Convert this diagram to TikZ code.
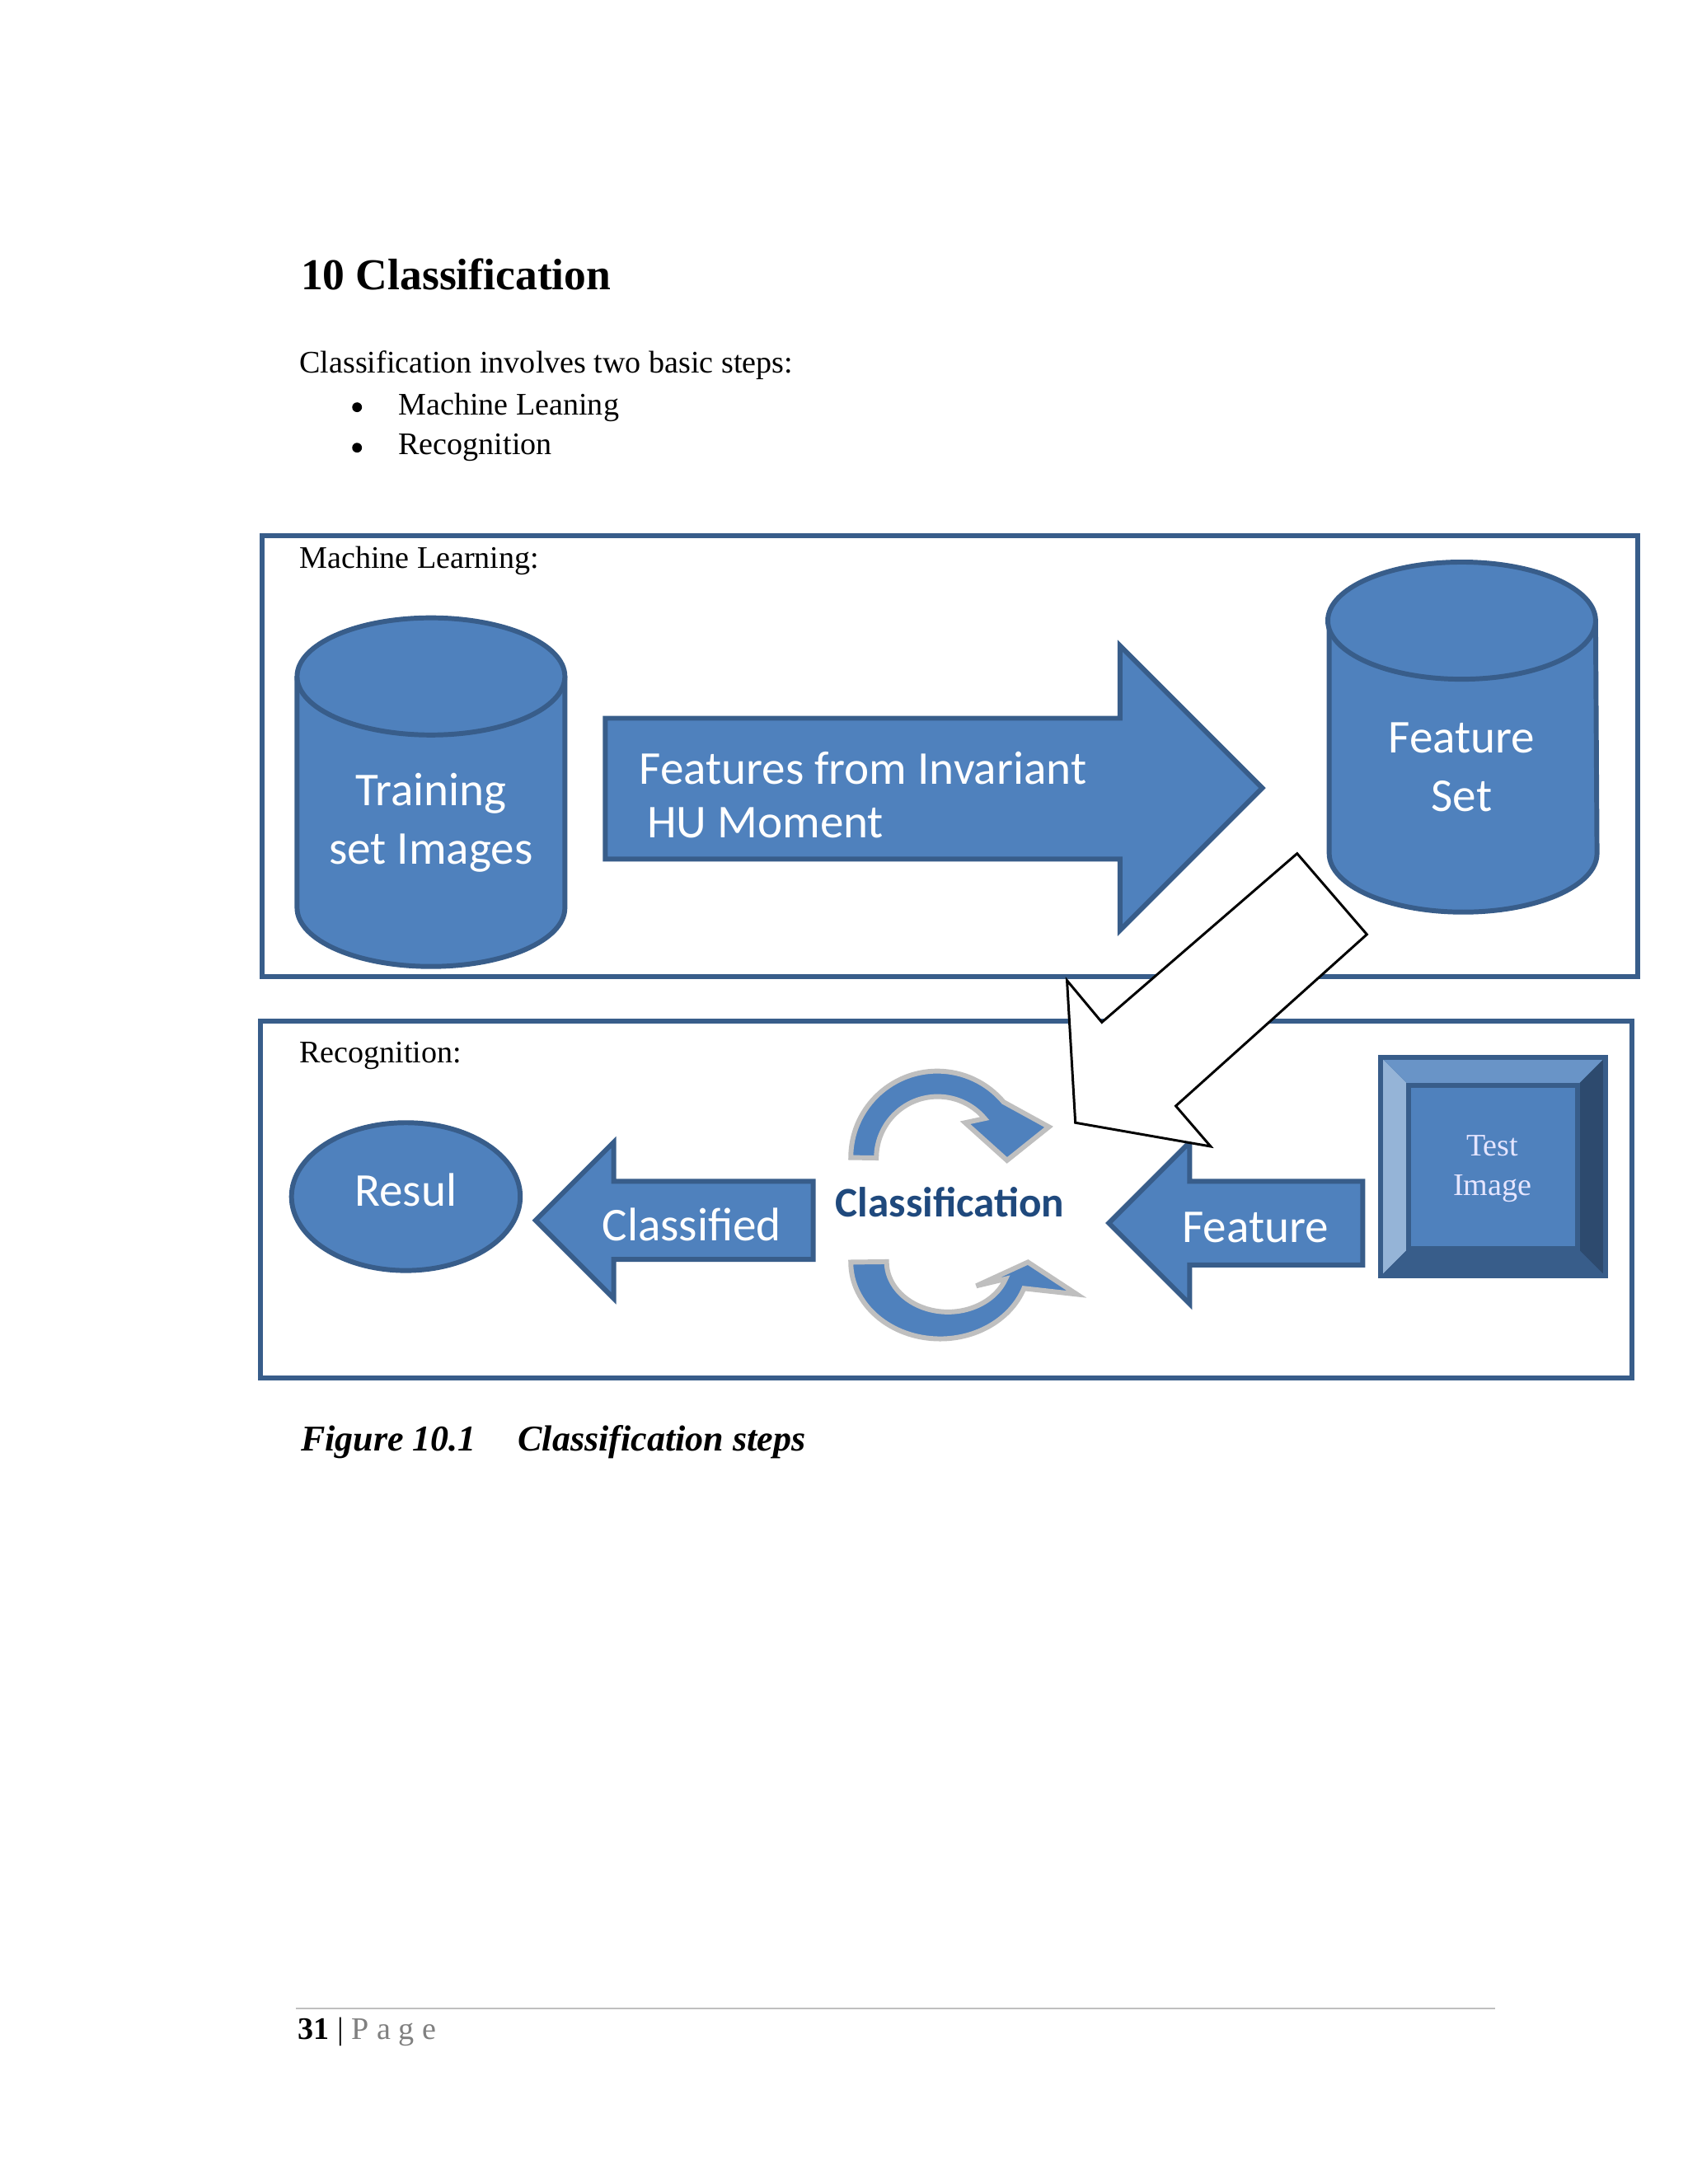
\documentclass[tikz,border=0pt]{standalone}
\usepackage{fontspec}
\setmainfont{Liberation Serif}
\newfontfamily\calib{Carlito}
\usetikzlibrary{shapes.geometric}
\definecolor{fillblue}{HTML}{4F81BD}
\definecolor{edgeblue}{HTML}{385D8A}
\definecolor{darkblue}{HTML}{1F497D}
\begin{document}
\begin{tikzpicture}[x=0.01cm,y=-0.01cm,
  shape fill/.style={fill=fillblue,draw=edgeblue,line width=1pt},
  frame/.style={draw=edgeblue,line width=1pt},
  bodytext/.style={anchor=west,inner sep=0,font=\fontsize{6.4}{7}\selectfont},
  bigtext/.style={text=white,font=\calib\fontsize{9.6}{12}\selectfont,align=center}]

    \useasboundingbox[fill=white] (0,0) rectangle (1210,1566);

    %===========================
    % Heading and text
    %===========================
    \node[bodytext,font=\bfseries\fontsize{9}{10}\selectfont] (head) at (215,197) {10 Classification};
    \node[bodytext] (intro) at (214,262) {Classification involves two basic steps:};
    \node[bodytext] (item1) at (285,292) {Machine Leaning};
    \node[bodytext] (item2) at (285,321) {Recognition};
    \fill (256,292) circle (3.5) (256,321) circle (3.5);

    %===========================
    % Machine Learning
    %===========================
    \draw[frame] (188,384) rectangle (1174,700);
    \node[bodytext] (ml) at (214,402) {Machine Learning:};

    % Cylinder left
    \draw[shape fill] (213,485) -- (213,651) arc (180:0:96 and 42) -- (405,485);
    \draw[shape fill] (309,485) ellipse (96 and 42);
    \node[bigtext] (train) at (309,590) {Training\\set Images};

    % Big arrow
    \draw[shape fill] (434,515) -- (803,515) -- (803,463) -- (905,565) -- (803,667) -- (803,616) -- (434,616) -- cycle;
    \node[bigtext,anchor=west,align=left] (feat) at (446,570) {Features from Invariant\\[-1pt] \,HU Moment};

    % Cylinder right
    \draw[shape fill] (953,445) -- (953,612) arc (180:0:96 and 42) -- (1144,445);
    \draw[shape fill] (1048,445) ellipse (96 and 42);
    \node[bigtext] (fset) at (1048,550) {Feature\\Set};

    %===========================
    % Recognition
    %===========================
    \draw[frame] (187,732) rectangle (1170,988);
    \node[bodytext] (rec) at (214,757) {Recognition:};

    % Result ellipse
    \draw[shape fill] (291,858) ellipse (82 and 53);
    \node[bigtext] (res) at (291,853) {Resul};

    % Classified arrow
    \draw[shape fill] (583,847) -- (440,847) -- (440,819) -- (384,875) -- (440,931) -- (440,903) -- (583,903) -- cycle;
    \node[bigtext] (cls) at (496,878) {Classified};

    % Feature arrow
    \draw[shape fill] (977,847) -- (853,847) -- (853,819) -- (795,877) -- (853,935) -- (853,907) -- (977,907) -- cycle;
    \node[bigtext] (fea) at (900,880) {Feature};

    % Cycle icon
    \draw[shape fill,draw=gray!50] (610,830) arc (180:320:62 and 62) -- (752,808) -- (722,832) -- (692,805) -- (706,802)
        arc (320:180:44 and 44) -- cycle;
    \draw[shape fill,draw=gray!50] (610,905) arc (180:20:64 and 55) -- (772,928) -- (737,905) -- (700,922) -- (721,917)
        arc (20:180:44 and 36) -- cycle;
    \node[text=darkblue,font=\calib\bfseries\fontsize{8.6}{10}\selectfont] (clf) at (681,862) {Classification};

    % Test image bevel
    \fill[edgeblue!80!black] (990,758) rectangle (1151,915);
    \fill[fillblue!60!white] (990,758) -- (1010,778) -- (1010,895) -- (990,915) -- cycle;
    \fill[fillblue!85!white] (990,758) -- (1151,758) -- (1131,778) -- (1010,778) -- cycle;
    \fill[edgeblue] (990,915) -- (1151,915) -- (1131,895) -- (1010,895) -- cycle;
    \draw[shape fill] (1010,778) rectangle (1131,895);
    \draw[edgeblue,line width=1pt] (990,758) rectangle (1151,915);
    \node[text=white!90!blue,font=\fontsize{6.4}{8}\selectfont,align=center] (test) at (1070,838) {Test\\Image};

    % White diagonal arrow
    \draw[fill=white,line width=0.5pt] (930,612) -- (980,670) -- (843,793) -- (868,822) -- (771,805) -- (765,703) -- (790,733) -- cycle;

    %===========================
    % Caption and footer
    %===========================
    \node[bodytext,font=\bfseries\itshape\fontsize{7.4}{9}\selectfont] (cap) at (215,1034) {Figure 10.1\hspace{0.9em} Classification steps};
    \draw[gray!50,line width=0.4pt] (212,1440) -- (1072,1440);
    \node[bodytext] (page) at (213,1457) {\textbf{31} | \textcolor{gray}{P a g e}};
\end{tikzpicture}
\end{document}
